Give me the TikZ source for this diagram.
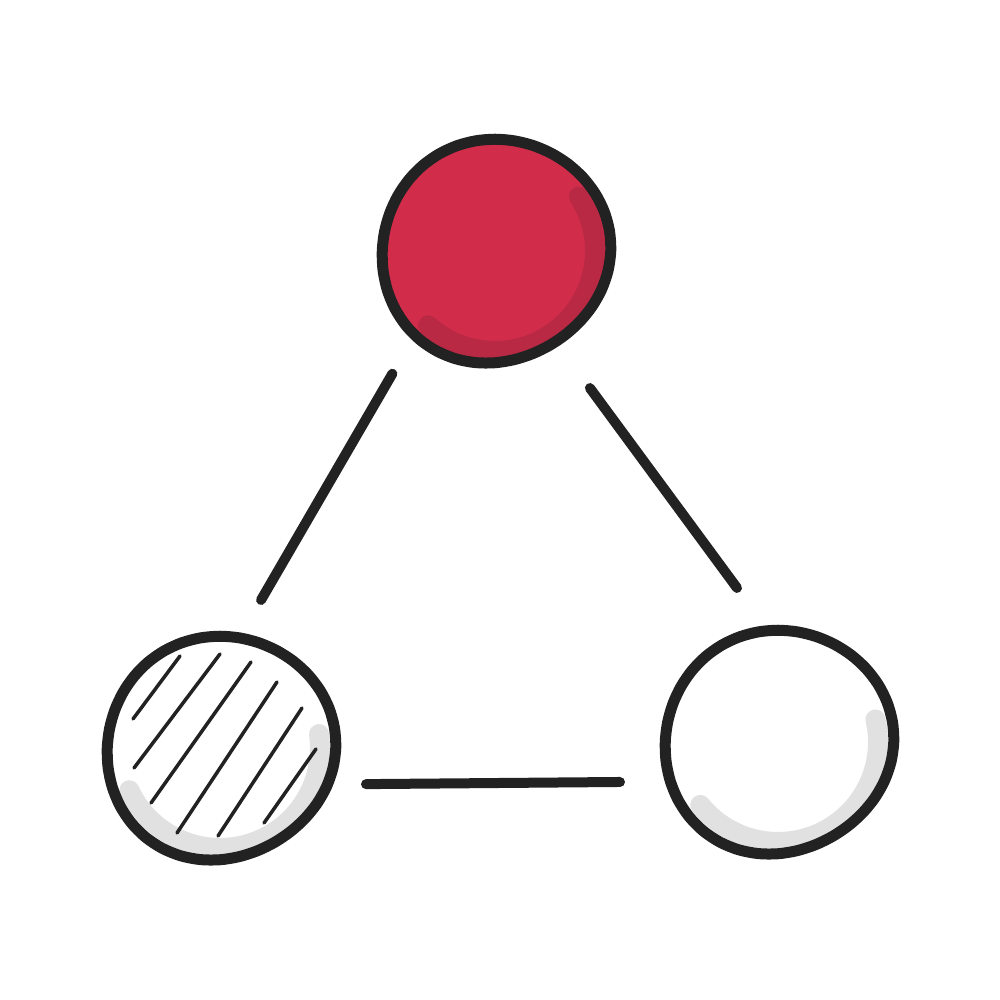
\documentclass[tikz,border=0pt]{standalone}
\usetikzlibrary{calc}
\definecolor{ink}{HTML}{222222}
\definecolor{redfill}{HTML}{D22C4B}
\definecolor{redshade}{HTML}{B92944}
\definecolor{grayshade}{HTML}{E1E1E1}
\tikzset{
  outline/.style={draw=ink, line width=11pt},
  shade band/.style={line width=20pt, line cap=round},
  hatchline/.style={draw=ink, line width=3.5pt, line cap=round},
  connector/.style={draw=ink, line width=10pt, line cap=round},
}
\newcommand{\wobblycircle}[4]{% center x, center y, radius, style
  \path[#4] plot[smooth cycle, variable=\t, samples=36, domain=0:350]
    ({#1+(#3+2.5*sin(2*\t+30)+1.5*cos(3*\t))*cos(\t)},
     {#2+(#3+2.5*sin(2*\t+30)+1.5*cos(3*\t))*sin(\t)});
}
\begin{document}
\begin{tikzpicture}[x=1pt,y=1pt]
\path[use as bounding box, fill=white] (0,0) rectangle (1000,1000);

% centres
\coordinate (red) at (495,749);
\coordinate (hatch) at (220,252);
\coordinate (white) at (778,258);

% red circle
\wobblycircle{495}{749}{113}{fill=redfill}
\draw[redshade, shade band] ($(red)+(228:100)$) arc[start angle=228, end angle=393, radius=100];
\wobblycircle{495}{749}{113}{outline}

% hatched circle
\wobblycircle{220}{252}{113}{fill=white}
\draw[grayshade, shade band] ($(hatch)+(205:100)$) arc[start angle=205, end angle=368, radius=100];
\draw[hatchline] (133,281) -- (180,344);
\draw[hatchline] (134,232) -- (220,346);
\draw[hatchline] (151,197) -- (251,338);
\draw[hatchline] (177,167) -- (277,318);
\draw[hatchline] (218,164) -- (302,292);
\draw[hatchline] (264,177) -- (316,251);
\wobblycircle{220}{252}{113}{outline}

% white circle
\wobblycircle{778}{258}{113}{fill=white}
\draw[grayshade, shade band] ($(white)+(219:100)$) arc[start angle=219, end angle=373, radius=100];
\wobblycircle{778}{258}{113}{outline}

% connectors
\draw[connector] ($(red)+(230.1:160)$) -- ($(hatch)+(74.5:153.6)$);
\draw[connector] ($(red)+(304.7:166.7)$) -- ($(white)+(104.9:159.4)$);
\draw[connector] ($(hatch)+(346.1:150.4)$) -- ($(white)+(194.2:163)$);
\end{tikzpicture}
\end{document}
